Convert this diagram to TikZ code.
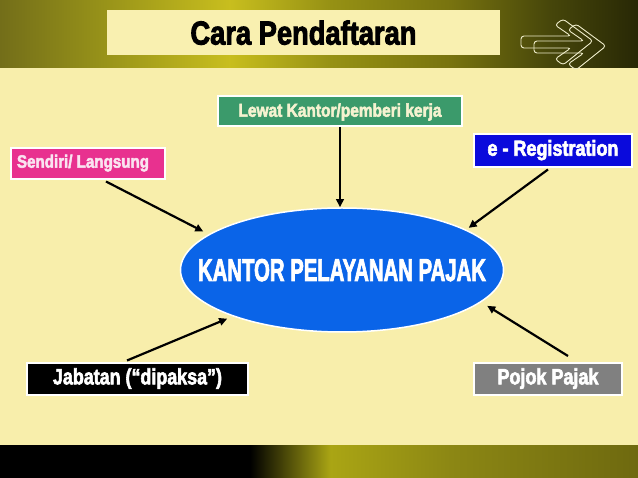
\documentclass[tikz,border=0pt]{standalone}
\usepackage{fontspec}
\usepackage{graphicx}
\usetikzlibrary{shapes.geometric,arrows.meta}
\newfontfamily\imp{Liberation Sans}[BoldFeatures={FakeBold=3}]
\definecolor{bgmain}{HTML}{F8EEAB}
\definecolor{ctitle}{HTML}{F9F0B0}
\definecolor{cgreen}{HTML}{3B9A6B}
\definecolor{cpink}{HTML}{E8318F}
\definecolor{cblue}{HTML}{0A0ADC}
\definecolor{cell}{HTML}{0A64E8}
\definecolor{cgrey}{HTML}{808080}
\definecolor{txtg}{HTML}{F5F2D0}
\definecolor{txtp}{HTML}{FAE3F0}
\definecolor{cream}{HTML}{ECEAC8}
\definecolor{tb0}{RGB}{115,110,25}
\definecolor{tb1}{RGB}{150,145,25}
\definecolor{tb2}{RGB}{200,190,30}
\definecolor{tb3}{RGB}{150,145,20}
\definecolor{tb4}{RGB}{120,115,15}
\definecolor{tb5}{RGB}{70,70,10}
\definecolor{tb6}{RGB}{40,40,5}
\definecolor{bb1}{RGB}{170,165,20}
\definecolor{bb2}{RGB}{140,135,20}
\definecolor{bb3}{RGB}{110,105,15}
\pgfdeclarehorizontalshading{topband}{100bp}{color(0bp)=(tb0); color(25bp)=(tb0); color(32.8bp)=(tb1); color(43bp)=(tb2); color(50.9bp)=(tb3); color(60.3bp)=(tb4); color(68.1bp)=(tb5); color(75bp)=(tb6); color(100bp)=(tb6)}
\pgfdeclarehorizontalshading{botband}{100bp}{color(0bp)=(black); color(25bp)=(black); color(44.6bp)=(black); color(50.9bp)=(bb1); color(60.3bp)=(bb2); color(75bp)=(bb3); color(100bp)=(bb3)}
\newcommand{\fitt}[3]{\resizebox{#1}{#2}{#3}}
\tikzset{
  boxnode/.style={rectangle, draw=white, line width=2pt, inner sep=0pt, font=\imp\bfseries, text=white},
  arr/.style={line width=2.2pt, -{Triangle[length=8pt,width=7.5pt]}},
  iconarrow/.pic={\draw[cream, line width=0.9pt, rounded corners=3pt] (0,0) -- (-30,-22) -- (-38,-16) -- (-22,-5) -- (-72,-5) -- (-72,7) -- (-22,7) -- (-38,18) -- (-30,24) -- cycle;}
}
\begin{document}
\begin{tikzpicture}[x=1pt, y=-1pt]
\useasboundingbox (0,0) rectangle (638,478);
% backgrounds
\fill[bgmain] (0,68) rectangle (638,446);
\shade[shading=topband] (0,0) rectangle (638,68);
\shade[shading=botband] (0,446) rectangle (638,478);
% title
\node[rectangle, fill=ctitle, minimum width=393pt, minimum height=45pt, inner sep=0pt, font=\imp\bfseries, text=black, text height=24pt, text depth=0pt] (title) at (303.5,32.5) {\fitt{226pt}{24pt}{Cara Pendaftaran}};
% icon
\pic at (593,41) {iconarrow};
\pic at (606,46) {iconarrow};
% nodes
\node[ellipse, fill=cell, draw=white, line width=1.5pt, minimum width=323pt, minimum height=124pt, inner sep=0pt, font=\imp\bfseries, text=white, text height=22pt, text depth=0pt] (kpp) at (342,270) {\makebox[0pt]{\fitt{288pt}{22pt}{KANTOR PELAYANAN PAJAK}}};
\node[boxnode, fill=cgreen, text=txtg, minimum width=244pt, minimum height=30pt, text height=13.4pt, text depth=2pt] (lewat) at (340,111) {\fitt{203pt}{13.4pt}{Lewat Kantor/pemberi kerja}};
\node[boxnode, fill=cpink, text=txtp, minimum width=154pt, minimum height=31pt, text height=13pt, text depth=4.6pt] (sendiri) at (88,163.5) {\hspace*{-10pt}\fitt{132pt}{13pt}{Sendiri/ Langsung}};
\node[boxnode, fill=cblue, minimum width=158pt, minimum height=33pt, text height=15.7pt, text depth=5.3pt] (ereg) at (553,150.5) {\fitt{131pt}{15.7pt}{e - Registration}};
\node[boxnode, fill=black, minimum width=221pt, minimum height=32pt, text height=16pt, text depth=5.4pt] (jabatan) at (137.5,379) {\fitt{169pt}{16pt}{Jabatan (“dipaksa”)}};
\node[boxnode, fill=cgrey, minimum width=148pt, minimum height=32pt, text height=16pt, text depth=5.4pt] (pojok) at (548,379) {\fitt{101pt}{16pt}{Pojok Pajak}};
% connectors
\draw[arr] (lewat.south) -- (lewat.south |- kpp.north);
\draw[arr, shorten >=6pt] ([xshift=18pt,yshift=-1.5pt]sendiri.south) -- (kpp.165);
\draw[arr, shorten >=3pt] ([xshift=-5pt,yshift=-1.5pt]ereg.south) -- (kpp.18);
\draw[arr, shorten >=6pt] ([xshift=-10.5pt,yshift=1.5pt]jabatan.north) -- (kpp.203);
\draw[arr, shorten >=7pt] ([xshift=20pt,yshift=6pt]pojok.north) -- (kpp.347);
\end{tikzpicture}
\end{document}
